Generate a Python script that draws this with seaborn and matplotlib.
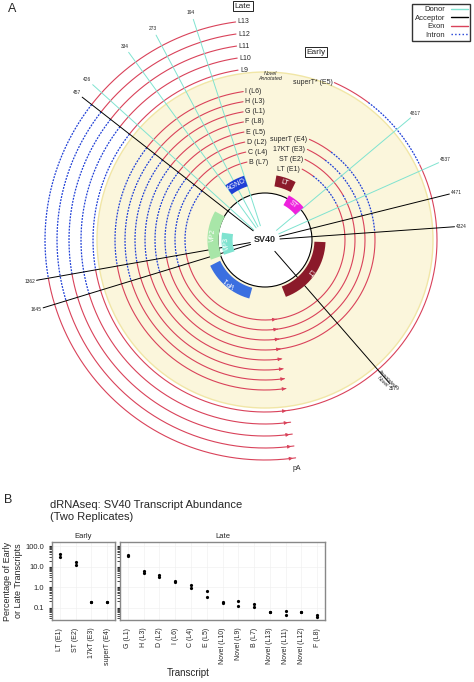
import numpy as np
import pandas as pd
import matplotlib
matplotlib.use('Agg')
import matplotlib.pyplot as plt
from matplotlib.lines import Line2D
import seaborn as sns

sns.set_style('white')
plt.rcParams['font.family'] = ['Liberation Sans', 'DejaVu Sans']

# ---- panel B data ----
early_names = ['LT (E1)', 'ST (E2)', '17kT (E3)', 'superT (E4)']
early_rep1 = [30, 12, 0.18, 0.18]
early_rep2 = [40, 17, 0.18, 0.18]
late_names = ['G (L1)', 'H (L3)', 'D (L2)', 'I (L6)', 'C (L4)', 'E (L5)', 'Novel (L10)',
              'Novel (L9)', 'B (L7)', 'Novel (L13)', 'Novel (L11)', 'Novel (L12)', 'F (L8)']
late_rep1 = [35, 5.0, 3.0, 1.8, 0.95, 0.32, 0.17, 0.12, 0.11, 0.06, 0.045, 0.06, 0.035]
late_rep2 = [38, 6.0, 3.8, 2.1, 1.3, 0.65, 0.18, 0.20, 0.15, 0.06, 0.07, 0.06, 0.045]

# ---- panel A data (genome positions) ----
late_tx = ['B (L7)', 'C (L4)', 'D (L2)', 'E (L5)', 'F (L8)', 'G (L1)', 'H (L3)', 'I (L6)',
           'L9', 'L10', 'L11', 'L12', 'L13']
late_start = [120, 110, 100, 90, 80, 70, 60, 50, 60, 55, 50, 45, 40]
late_donor = [457, 457, 457, 457, 457, 457, 457, 457, 457, 457, 457, 457, 457]
late_accept = [1362, 1645, 1362, 1645, 1362, 1362, 1645, 1362, 1362, 1645, 1362, 1645, 1362]
early_tx = ['LT (E1)', 'ST (E2)', '17KT (E3)', 'superT (E4)', 'superT* (E5)']
early_start = [4990, 5000, 5010, 5020, 5020]
early_donor = [4918, 4638, 4918, 4918, 4918]
early_accept = [4571, 4571, 4471, 4324, 4571]
pA = 2600
donor_sites = [194, 273, 334, 426, 4817, 4537]
acceptor_sites = [457, 1362, 1645, 4471, 4324, 3579]

pos_anchor = [0, 194, 273, 334, 457, 1362, 1645, 2600, 3579, 4324, 4471, 4537, 4817, 5243]
ang_anchor = [95, 108, 118, 126, 142, 190, 197, 278, 311, 364, 374, 384, 400, 455]

cx, cy = 265, 240
late_r = [80, 90, 100, 110, 120, 130, 140, 150, 172, 184, 196, 208, 220]
early_r = [80, 90, 100, 110, 172]


def ang(p):
    return np.interp(p, pos_anchor, ang_anchor)


def arc(ax, r, a0, a1, **kw):
    t = np.radians(np.linspace(a0, a1, 200))
    ax.plot(cx + r * np.cos(t), cy - r * np.sin(t), **kw)


def xy(r, a):
    t = np.radians(a)
    return cx + r * np.cos(t), cy - r * np.sin(t)


fig = plt.figure(figsize=(4.74, 6.82), dpi=100)
ax = fig.add_axes([0, 0, 1, 1])
ax.set_xlim(0, 474)
ax.set_ylim(682, 0)
ax.axis('off')

ax.add_patch(plt.Circle((cx, cy), 168, facecolor='#fbf6dc', edgecolor='#f1e6a6', lw=1, zorder=0))
ax.add_patch(plt.Circle((cx, cy), 47, facecolor='white', edgecolor='black', lw=0.8, zorder=1))

red = '#d9425a'
blue = '#1f3fd6'
cyan = '#7fe3d0'
for name, r, s, d, a in zip(late_tx, late_r, late_start, late_donor, late_accept):
    arc(ax, r, ang(s), ang(d), color=red, lw=0.8, zorder=2)
    arc(ax, r, ang(d), ang(a), color=blue, lw=0.9, ls=(0, (1.5, 1)), zorder=2)
    arc(ax, r, ang(a), ang(pA), color=red, lw=0.8, zorder=2)
    x, y = xy(r, ang(s))
    ax.annotate('', xy=xy(r, ang(pA)), xytext=xy(r, ang(pA) - 2),
                arrowprops=dict(arrowstyle='-|>', color=red, lw=0.6, mutation_scale=5))
    ax.text(x + 2, y, name, fontsize=5, ha='left', va='center')
for name, r, s, d, a in zip(early_tx, early_r, early_start, early_donor, early_accept):
    arc(ax, r, ang(s), ang(d), color=red, lw=0.8, zorder=2)
    arc(ax, r, ang(d), ang(a), color=blue, lw=0.9, ls=(0, (1.5, 1)), zorder=2)
    arc(ax, r, ang(a), ang(pA), color=red, lw=0.8, zorder=2)
    x, y = xy(r, ang(s))
    ax.text(x - 2, y, name, fontsize=5, ha='right', va='center')

for sites, col in [(donor_sites, cyan), (acceptor_sites, 'black')]:
    for p in sites:
        a = ang(p)
        rr = 232 if p < pA else 190
        x0, y0 = xy(15, a)
        x1, y1 = xy(rr, a)
        ax.plot([x0, x1], [y0, y1], color=col, lw=0.7, zorder=3)
        x2, y2 = xy(rr + 7, a)
        ax.text(x2, y2, str(p), fontsize=3.5, ha='center', va='center')
x, y = xy(228, ang(pA))
ax.text(x, y + 4, 'pA', fontsize=5, ha='center')

# protein blocks
blocks = [('AGNO', 62, 108, 126, '#1f3fd6'), ('VP2', 52, 150, 200, '#a8e6a8'),
          ('VP3', 38, 170, 200, '#7fe3d0'), ('VP1', 55, 205, 255, '#3b6fe0'),
          ('LT', 55, 290, 358, '#8b1a2a'), ('LT', 60, 62, 80, '#8b1a2a'),
          ('ST', 45, 40, 62, '#ee22dd')]
for lab, r, a0, a1, c in blocks:
    arc(ax, r, a0, a1, color=c, lw=8, solid_capstyle='butt', zorder=4)
    x, y = xy(r, (a0 + a1) / 2)
    ax.text(x, y, lab, fontsize=5, color='white', ha='center', va='center',
            rotation=(a0 + a1) / 2 - 90, zorder=5)
ax.text(cx, cy, 'SV40', fontsize=6.5, fontweight='bold', ha='center', va='center')

ax.text(243, 6, 'Late', fontsize=6, ha='center', va='center',
        bbox=dict(boxstyle='square,pad=0.2', fc='white', ec='black', lw=0.6))
ax.text(316, 52, 'Early', fontsize=6, ha='center', va='center',
        bbox=dict(boxstyle='square,pad=0.2', fc='white', ec='black', lw=0.6))
ax.text(270, 76, 'Novel\nAnnotated', fontsize=3.8, style='italic', ha='center', va='center')
ax.text(385, 380, 'Annotated\nNovel', fontsize=3.8, style='italic', ha='center', va='center', rotation=-45)
ax.text(8, 12, 'A', fontsize=9)
ax.text(4, 503, 'B', fontsize=9)

handles = [Line2D([], [], color=cyan, lw=1), Line2D([], [], color='black', lw=1),
           Line2D([], [], color=red, lw=1), Line2D([], [], color=blue, lw=1, ls=':')]
leg = ax.legend(handles, ['Donor', 'Acceptor', 'Exon', 'Intron'], loc='upper right',
                fontsize=5.5, markerfirst=False, frameon=True, fancybox=False,
                borderpad=0.3, labelspacing=0.15, handlelength=2.2,
                bbox_to_anchor=(1.0, 1.0))
leg.get_frame().set_edgecolor('black')

# ---- panel B ----
fig.text(50 / 474, 1 - 500 / 682, 'dRNAseq: SV40 Transcript Abundance\n(Two Replicates)',
         fontsize=8, va='top')
early_df = pd.DataFrame({'transcript': early_names * 2, 'pct': early_rep1 + early_rep2})
late_df = pd.DataFrame({'transcript': late_names * 2, 'pct': late_rep1 + late_rep2})
axE = fig.add_axes([52 / 474, 1 - 620 / 682, 63 / 474, 78 / 682])
axL = fig.add_axes([120 / 474, 1 - 620 / 682, 205 / 474, 78 / 682])
for a, d, t in [(axE, early_df, 'Early'), (axL, late_df, 'Late')]:
    sns.stripplot(data=d, x='transcript', y='pct', ax=a, jitter=False, color='black', size=2.3)
    a.set_yscale('log')
    a.set_ylim(0.025, 160)
    a.grid(True, color='#eeeeee', lw=0.4)
    for s in a.spines.values():
        s.set_color('#888888')
        s.set_linewidth(1)
    a.tick_params(axis='x', labelrotation=90, labelsize=5, length=2)
    a.tick_params(axis='y', labelsize=5.5, length=2, left=True, which='both')
    a.set_xlabel('')
    a.set_ylabel('')
    a.set_title(t, fontsize=5.5, pad=3)
axE.set_yticks([0.1, 1, 10, 100])
axE.set_yticklabels(['0.1', '1.0', '10.0', '100.0'])
axL.set_yticks([0.1, 1, 10, 100])
axL.set_yticklabels([])
axE.set_ylabel('Percentage of Early\nor Late Transcripts', fontsize=6.5, labelpad=2)
fig.text(188 / 474, 1 - 676 / 682, 'Transcript', fontsize=7, ha='center')

fig.savefig('out.png', dpi=100)
